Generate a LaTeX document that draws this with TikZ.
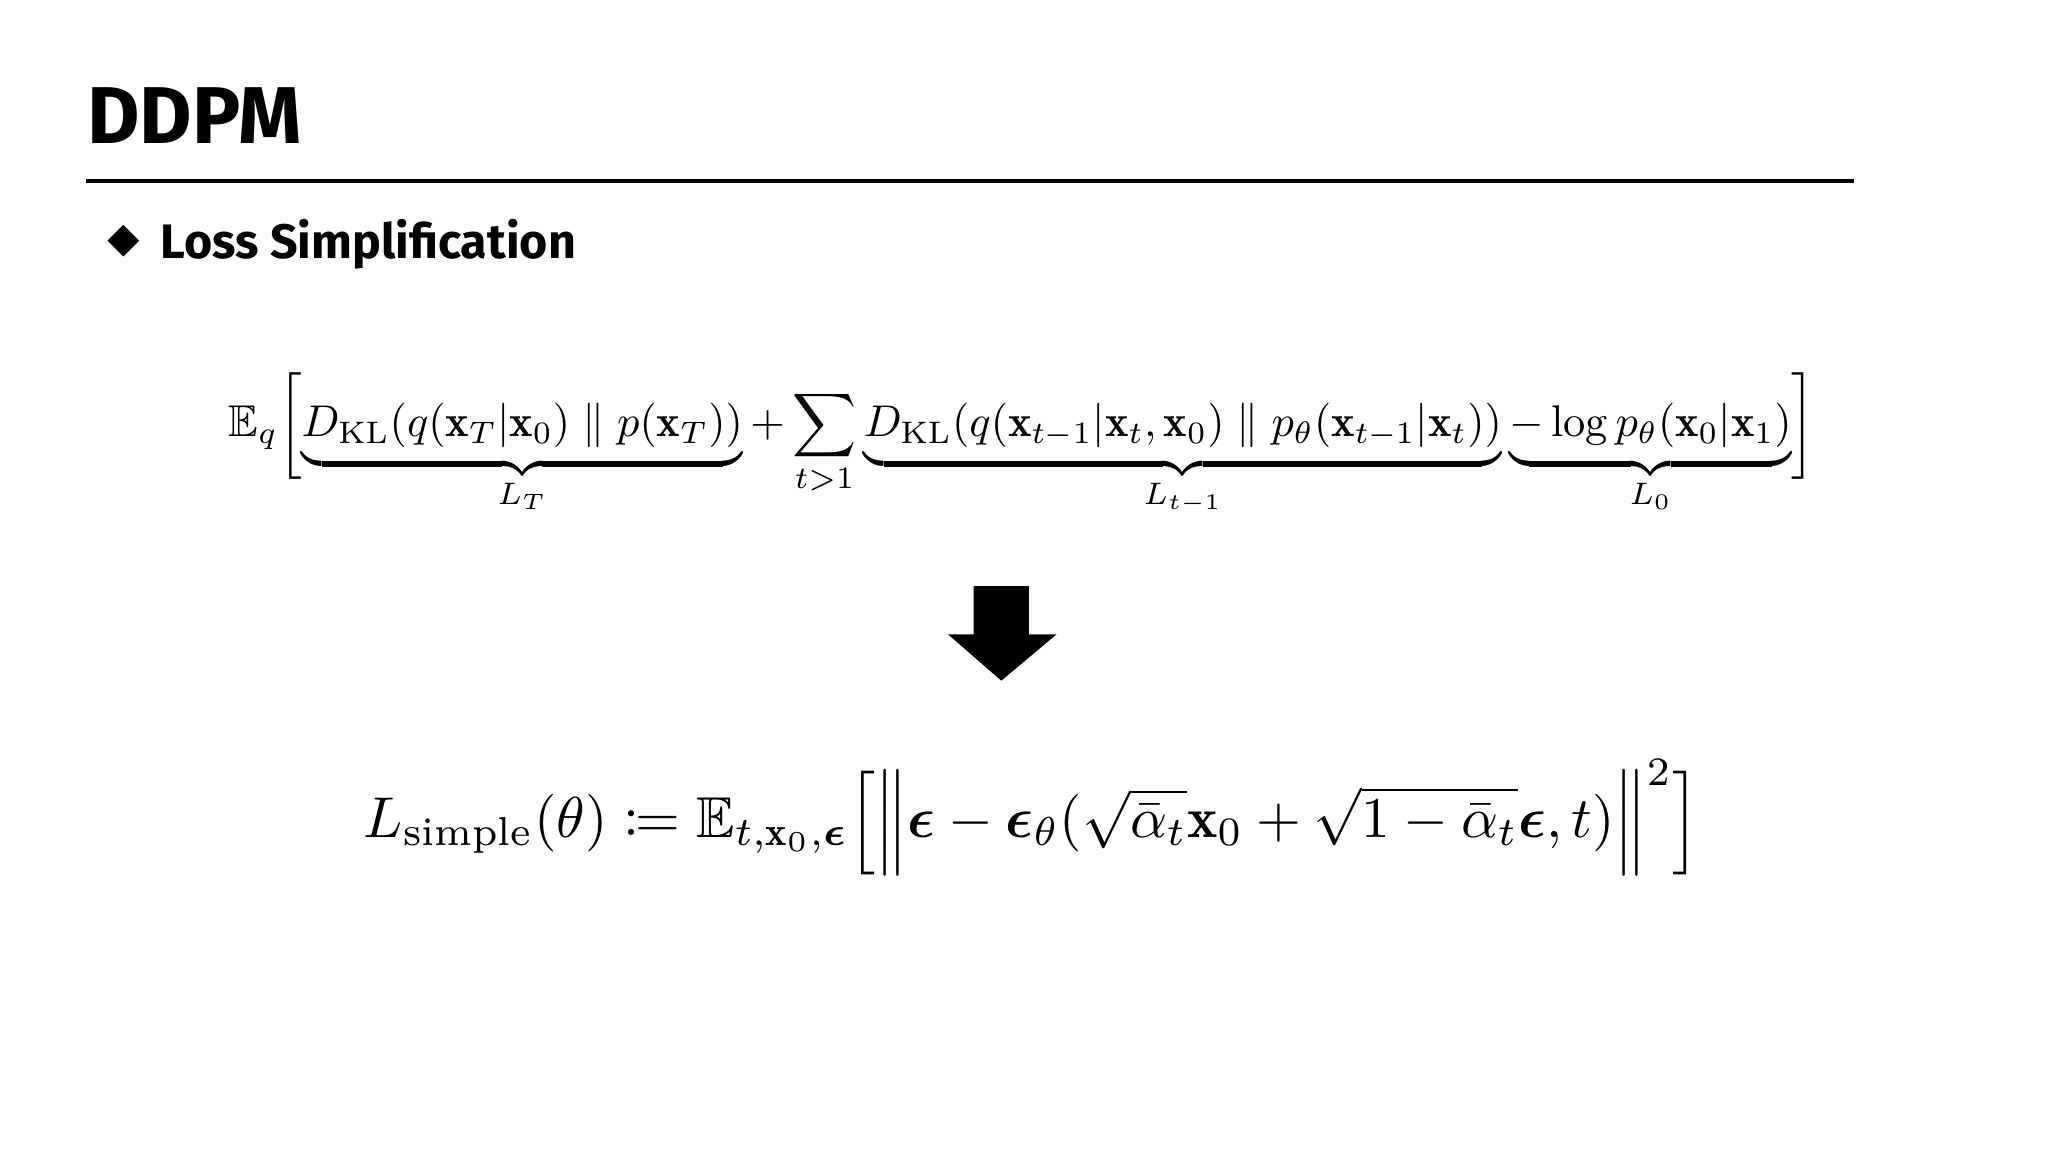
\documentclass[tikz,border=0pt]{standalone}
\usepackage{amsmath,amssymb,mathtools,bm}
\usepackage{fontspec}
\newfontfamily\headfont{Fira Sans}
\begin{document}
\begin{tikzpicture}[x=0.009864cm,y=-0.009864cm]
\useasboundingbox (0,0) rectangle (2076,1168);
\tikzset{titletext/.style={anchor=west,inner sep=0,font=\headfont\bfseries},
 eqnode/.style={inner sep=0}}
\node[titletext] (title) at (88,117) {\resizebox{2.14cm}{!}{\fontsize{28}{30}\selectfont DDPM}};
\draw[line width=1.14pt] (87,183) -- (1879,183);
\fill (109,244) -- (125,228) -- (141,244) -- (125,260) -- cycle;
\node[titletext] (sub) at (162,248) {\resizebox{4.15cm}{!}{\fontsize{17}{19}\selectfont Loss Simplification}};
\node[eqnode] (eq1) at (1036,451) {\resizebox{15.85cm}{!}{$\displaystyle
\mathbb{E}_q\biggl[\underbrace{D_{\mathrm{KL}}(q(\mathbf{x}_T|\mathbf{x}_0)\parallel p(\mathbf{x}_T))}_{L_T} + \sum_{t>1}\underbrace{D_{\mathrm{KL}}(q(\mathbf{x}_{t-1}|\mathbf{x}_t,\mathbf{x}_0)\parallel p_\theta(\mathbf{x}_{t-1}|\mathbf{x}_t))}_{L_{t-1}} \underbrace{- \log p_\theta(\mathbf{x}_0|\mathbf{x}_1)}_{L_0}\biggr]$}};
\fill (987,594) -- (1043,594) -- (1043,643) -- (1071,643) -- (1015,690) -- (961,643) -- (987,643) -- cycle;
\node[eqnode] (eq2) at (1046,828) {\resizebox{13.35cm}{!}{$\displaystyle
L_{\mathrm{simple}}(\theta) \coloneqq \mathbb{E}_{t,\mathbf{x}_0,\bm{\epsilon}}\Bigl[\Big\|\bm\epsilon - \bm\epsilon_\theta(\sqrt{\bar\alpha_t}\mathbf{x}_0+\sqrt{1-\bar\alpha_t}\bm\epsilon, t)\Big\|^2\Bigr]$}};
\end{tikzpicture}
\end{document}
